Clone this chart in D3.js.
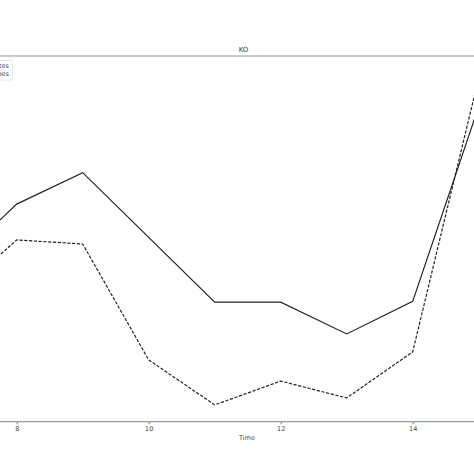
<!DOCTYPE html>
<html>
<head>
<meta charset="utf-8">
<script src="https://cdn.jsdelivr.net/npm/d3@7"></script>
<style>
  body { margin: 0; background: #fff; }
  svg { display: block; font-family: "DejaVu Sans", sans-serif; }
</style>
</head>
<body>
<script>
// data
var times = [7, 8, 9, 10, 11, 12, 13, 14, 15];
var estimates = [4.23, 5.95, 6.81, 5.04, 3.27, 3.27, 2.40, 3.29, 8.62];
var tomatoes = [3.36, 4.97, 4.86, 1.69, 0.46, 1.11, 0.65, 1.91, 9.40];
var xTicks = [8, 10, 12, 14];
var seriesNames = ["Estimates", "Tomatoes"];

var W = 474, H = 474;

var svg = d3.select("body")
    .append("svg")
    .attr("width", W)
    .attr("height", H);

// the plot is cropped on both sides, so the axes run past the picture
var x = d3.scaleLinear()
    .domain([8, 14])
    .range([16.7, 412.7]);

var y = d3.scaleLinear()
    .domain([0, 10])
    .range([421.7, 56]);

var line = d3.line()
    .x(function(d) { return x(d[0]); })
    .y(function(d) { return y(d[1]); });

// lijnen
svg.append("path")
    .datum(d3.zip(times, estimates))
    .attr("d", line)
    .attr("fill", "none")
    .attr("stroke", "#222")
    .attr("stroke-width", 1.2);

svg.append("path")
    .datum(d3.zip(times, tomatoes))
    .attr("d", line)
    .attr("fill", "none")
    .attr("stroke", "#222")
    .attr("stroke-width", 1.2)
    .attr("stroke-dasharray", "3.2,1.6");

// top spine
svg.append("line")
    .attr("x1", 0).attr("x2", W)
    .attr("y1", 56).attr("y2", 56)
    .attr("stroke", "#999")
    .attr("stroke-width", 1);

// x axis
var xAxis = svg.append("g")
    .attr("transform", "translate(0,421.7)")
    .call(d3.axisBottom(x).tickValues(xTicks).tickFormat(d3.format("d")).tickSize(2.5).tickPadding(2));

xAxis.select(".domain").remove();
xAxis.append("line")
    .attr("x1", 0).attr("x2", W)
    .attr("stroke", "#999")
    .attr("stroke-width", 1.2);
xAxis.selectAll(".tick line").attr("stroke", "#777");
xAxis.selectAll("text")
    .attr("fill", "#444")
    .style("font-size", "6.5px")
    .style("font-family", "DejaVu Sans");

svg.append("text")
    .attr("x", 247)
    .attr("y", 440)
    .attr("text-anchor", "middle")
    .attr("fill", "#444")
    .style("font-size", "6.5px")
    .text("Time");

// titel
svg.append("text")
    .attr("x", 243.5)
    .attr("y", 51.5)
    .attr("text-anchor", "middle")
    .attr("fill", "#444")
    .style("font-size", "7px")
    .text("KO");

// legend, cut off at the left edge like in the reference
var legend = svg.append("g");
legend.append("rect")
    .attr("x", -60)
    .attr("y", 60.5)
    .attr("width", 72.5)
    .attr("height", 19.5)
    .attr("rx", 1.5)
    .attr("fill", "#fff")
    .attr("stroke", "#ddd")
    .attr("stroke-width", 0.8);

legend.selectAll("text.lab")
    .data(seriesNames)
    .enter()
    .append("text")
    .attr("class", "lab")
    .attr("x", 9)
    .attr("y", function(d, i) { return 67.5 + i * 8.5; })
    .attr("text-anchor", "end")
    .attr("fill", "#444")
    .style("font-size", "6.5px")
    .text(function(d) { return d; });
</script>
</body>
</html>
